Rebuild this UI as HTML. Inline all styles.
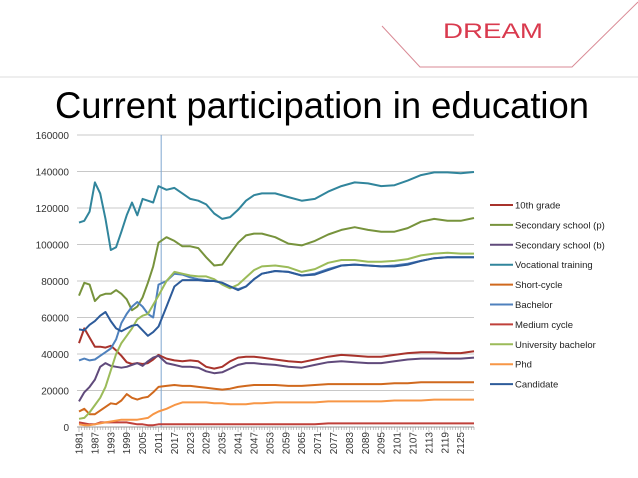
<!DOCTYPE html>
<html><head><meta charset="utf-8"><style>
body{margin:0;width:638px;height:478px;overflow:hidden;background:#fff;font-family:"Liberation Sans",sans-serif}
svg{position:absolute;left:0;top:0}
</style></head><body>
<svg width="638" height="478">
 <g>
  <line x1="0" y1="77" x2="638" y2="77" stroke="#eee" stroke-width="2"/>
  <polyline points="382,26 420,67 572,67 638,2" fill="none" stroke="#d98a95" stroke-width="1"/>
  <text x="443" y="38" font-size="21" fill="#d93a4e" font-family="Liberation Sans" textLength="100" lengthAdjust="spacingAndGlyphs">DREAM</text>
 </g>
 <text x="322" y="118" text-anchor="middle" font-size="37" fill="#000" textLength="534" lengthAdjust="spacingAndGlyphs">Current participation in education</text>
 <g id="chart"></g>
</svg>
<script>
const years=[1981,1983,1985,1987,1989,1991,1993,1995,1997,1999,2001,2003,2005,2007,2009,2011,2014,2017,2020,2023,2026,2029,2032,2035,2038,2041,2044,2047,2050,2055,2060,2065,2070,2075,2080,2085,2090,2095,2100,2105,2110,2115,2120,2125,2130];
const seriesNames=["10th grade","Secondary school (p)","Secondary school (b)","Vocational training","Short-cycle","Bachelor","Medium cycle","University bachelor","Phd","Candidate"];
const seriesColors=["#a8332c","#77933c","#604a7b","#31859c","#d0691e","#4f81bd","#c0403a","#9bbb59","#f79646","#2d5b9a"];
const tenthGrade=[46,54,49,44,44,43.5,44.5,42,39,35.5,34.5,35,34.5,35,37,39.5,37.5,36.5,36,36.5,36,33,32,33,36,38,38.5,38.5,38,37,36,35.5,37,38.5,39.5,39,38.5,38.5,39.5,40.5,41,41,40.5,40.5,41.5];
const secondaryP=[72,79,78,69,72,73,73,75,73,70,64,66,71,79,88,101,104,102,99,99,98,93,88.5,89,95,101,105,106,106,104,100.5,99.5,102,105.5,108,109.5,108,107,107,109,112.5,114,113,113,114.5];
const secondaryB=[14,19,22,26,33,35,33.5,33,32.5,33,34,35,33.5,36,38,39,35,34,33,33,32.5,30.5,29.5,30,32,34,35,35,34.5,34,33,32.5,34,35.5,36,35.5,35,35,36,37,37.5,37.5,37.5,37.5,38];
const vocational=[112,113,118,134,128,114,97,98.5,107,116,123,116,125,124,123,132,130,131,128,125,124,122,117,114,115,119,124,127,128,128,126,124,125,129,132,134,133.5,132,132.5,135,138,139.5,139.5,139,139.7];
const shortCycle=[8.5,10,7,7,9,11,13,12.5,14.5,18,16,15,16,16.5,19,22,22.5,23,22.5,22.5,22,21.5,21,20.5,21,22,22.5,23,23,23,22.5,22.5,23,23.5,23.5,23.5,23.5,23.5,24,24,24.5,24.5,24.5,24.5,24.5];
const bachelor=[36.5,37.5,36.5,37,39,41,43,48,57,62,66,68.5,66,62,60,78,80,84,83.5,82,81,80.5,80,79,77,75.5,77,81,84,85.5,85,83,84,86.5,88.5,89,88.5,88,88.5,89.5,91,92.5,93,93,93];
const mediumCycle=[2.5,2,1.5,1.5,2.5,2.5,2.5,2.5,2.5,2.5,2,1.5,1.5,1,1,1.5,1.5,1.5,1.5,1.5,1.5,1.5,1.5,1.5,1.5,1.5,1.5,1.5,1.5,1.5,1.5,1.5,1.5,2,2,2,2,2,2,2,2,2,2,2,2];
const uniBachelor=[4.5,5,8,12,16,22,31,40,46,50,54,59,61,62,67,72,80,85,84,83,82.5,82.5,81,78,76,78,82,86,88,88.5,87.5,85,86.5,90,91.5,91.5,90.5,90.5,91,92,94,95,95.5,95,95];
const phd=[1.5,1,1,1.5,2,2.5,3,3.5,4,4,4,4,4.5,5,7,8.5,10,12,13.5,13.5,13.5,13.5,13,13,12.5,12.5,12.5,13,13,13.5,13.5,13.5,13.5,14,14,14,14,14,14.5,14.5,14.5,15,15,15,15];
const candidate=[53.5,53,56,58,61,63,58,54,52.5,54,55.5,56,53,50,52,55,66,77,80.5,80.5,80.5,80,80,79,77,75,77,81,84,85.5,85,83,83.5,86,88.5,89,88.5,88,88,89,91,92.5,93,93,93];
const yTicks=[0,20000,40000,60000,80000,100000,120000,140000,160000];
const allSeries=[tenthGrade,secondaryP,secondaryB,vocational,shortCycle,bachelor,mediumCycle,uniBachelor,phd,candidate];
const markerYear=2012;

const NS="http://www.w3.org/2000/svg";
const g=document.getElementById('chart');
const X0=79,X1=474,Y0=427,Y1=135,YMIN=1981,YMAX=2130;
const xs=y=>X0+(y-YMIN)/(YMAX-YMIN)*(X1-X0);
const ys=v=>Y0-v/160000*(Y0-Y1);
function mk(t,a){const e=document.createElementNS(NS,t);for(const k in a)e.setAttribute(k,a[k]);g.appendChild(e);return e;}
yTicks.forEach(v=>{
 const l=mk('line',{x1:77,x2:X1,y1:ys(v),y2:ys(v),stroke:v===0?'#999':'#c8c8c8','stroke-width':1});
 
 
 const t=mk('text',{x:69,y:ys(v)+4,'text-anchor':'end','font-size':10,fill:'#333'});
 t.textContent=v;
 
 
});
for(let yr=YMIN;yr<=YMAX;yr++){
 const x=xs(yr);
 const tk=mk('line',{x1:x,x2:x,y1:Y0,y2:Y0+(yr%6===1?5:3),stroke:'#999','stroke-width':0.6});
 
 
 if((yr-YMIN)%6===0){
  const t=mk('text',{x:0,y:0,'text-anchor':'end','font-size':10,fill:'#333',transform:`translate(${x+3.5},${Y0+5}) rotate(-90)`});
  t.textContent=yr;
  
  
 }
}
const ml=mk('line',{x1:xs(markerYear),x2:xs(markerYear),y1:Y1,y2:Y0,stroke:'#7fa7d0','stroke-width':1});


allSeries.forEach((s,i)=>{
 const pts=s.map((v,j)=>xs(years[j]).toFixed(1)+','+ys(v*1000).toFixed(1)).join(' ');
 const p=mk('polyline',{points:pts,fill:'none',stroke:seriesColors[i],'stroke-width':2,'stroke-linejoin':'round'});
 
 
 const ly=205+i*19.9;
 const ll=mk('line',{x1:490,x2:513,y1:ly,y2:ly,stroke:seriesColors[i],'stroke-width':2});
 
 
 const lt=mk('text',{x:515,y:ly+3.5,'font-size':9.5,fill:'#222'});
 lt.textContent=seriesNames[i];
 
 
});
</script>
</body></html>
